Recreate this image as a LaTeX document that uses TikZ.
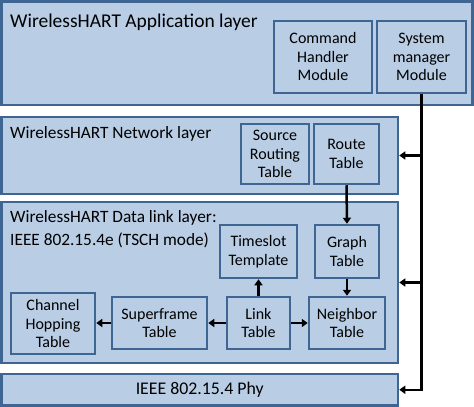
\documentclass[tikz,border=0pt]{standalone}
\usepackage{fontspec}
\setmainfont{Carlito}
\usetikzlibrary{arrows.meta}
\definecolor{boxfill}{HTML}{B9CDE5}
\definecolor{boxline}{HTML}{3F6593}
\tikzset{
  layer/.style={draw=boxline, fill=boxfill, line width=2.5pt},
  inner/.style={draw=boxline, fill=boxfill, line width=2.5pt, align=center, inner sep=0pt,
    font=\fontsize{16}{18.5}\selectfont},
  title/.style={anchor=base west, inner sep=0pt, font=\fontsize{17.3}{22.5}\selectfont, align=left},
  conn/.style={line width=2.5pt, -{Triangle[length=6pt,width=8pt]}},
  plainconn/.style={line width=2.5pt}
}
\begin{document}
\begin{tikzpicture}[x=1pt,y=-1pt]
\useasboundingbox (0,0) rectangle (474,407);
% layers
\node[layer, minimum width=471pt, minimum height=103.5pt, inner sep=0pt] (app) at (237,53.25) {};
\node[layer, minimum width=396.5pt, minimum height=77pt, inner sep=0pt] (net) at (199.75,155.5) {};
\node[layer, minimum width=396.5pt, minimum height=161pt, inner sep=0pt] (dl) at (199.75,282.5) {};
\node[layer, minimum width=396.5pt, minimum height=31.5pt, inner sep=0pt, font=\fontsize{17.8}{20}\selectfont] (phy) at (199.75,389.75) {IEEE 802.15.4 Phy};
% titles
\node[title, font=\fontsize{19.5}{23}\selectfont] (apptitle) at (10,27) {WirelessHART Application layer};
\node[title] (nettitle) at (10,138) {WirelessHART Network layer};
\node[title] (dltitle) at (10,245) {WirelessHART Data link layer:\\IEEE 802.15.4e (TSCH mode)};
% inner boxes
\node[inner, minimum width=98pt, minimum height=72pt] (cmd) at (323,57) {Command\\Handler\\Module};
\node[inner, minimum width=89pt, minimum height=72pt] (sys) at (421.5,57) {System\\manager\\Module};
\node[inner, minimum width=68pt, minimum height=60pt] (src) at (275,154) {Source\\Routing\\Table};
\node[inner, minimum width=65pt, minimum height=60pt] (route) at (346.5,154) {Route\\Table};
\node[inner, minimum width=77pt, minimum height=53pt] (timeslot) at (258.5,251.5) {Timeslot\\Template};
\node[inner, minimum width=64pt, minimum height=53pt] (graph) at (347,251.5) {Graph\\Table};
\node[inner, minimum width=84pt, minimum height=61pt] (channel) at (53,323.5) {Channel\\Hopping\\Table};
\node[inner, minimum width=95pt, minimum height=52pt] (superframe) at (159.5,323) {Superframe\\Table};
\node[inner, minimum width=63pt, minimum height=52pt] (link) at (258.5,323) {Link\\Table};
\node[inner, minimum width=76pt, minimum height=52pt] (neighbor) at (347,323) {Neighbor\\Table};
% connectors
\draw[plainconn] (sys.south) -- (sys.south |- phy.east);
\draw[conn] ([xshift=1.25pt]sys.south |- phy.east) -- (phy.east);
\draw[conn] (sys.south |- net.east) -- (net.east);
\draw[conn] (sys.south |- dl.east) -- (dl.east);
\draw[conn] (route.south) -- (graph.north);
\draw[conn] (graph.south) -- (neighbor.north);
\draw[conn] (link.north) -- (timeslot.south);
\draw[conn] (link.east) -- (neighbor.west);
\draw[conn] (link.west) -- (superframe.west -| superframe.east);
\draw[conn] (superframe.west) -- (channel.east |- superframe.west);
\end{tikzpicture}
\end{document}
